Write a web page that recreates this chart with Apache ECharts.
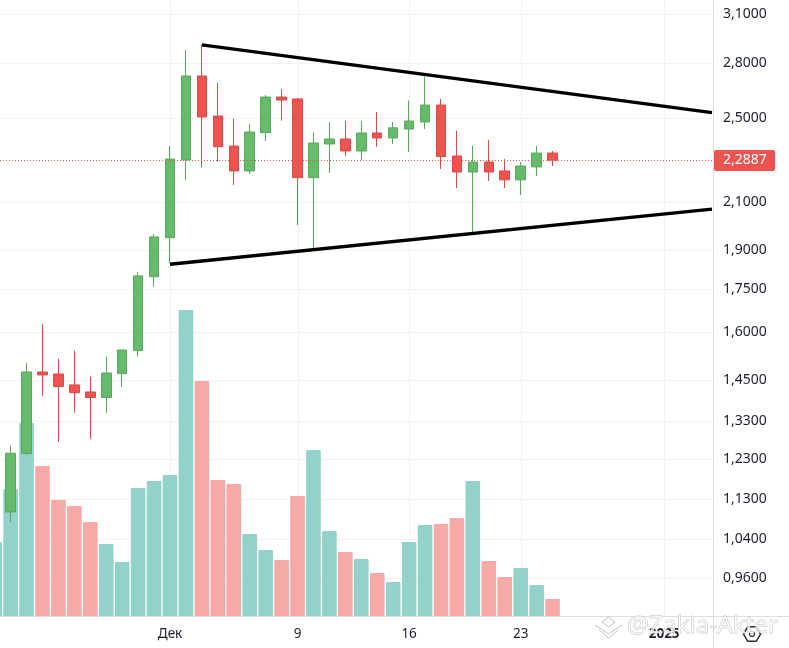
<!DOCTYPE html>
<html>
<head>
<meta charset="UTF-8">
<title>Candles</title>
<style>
html,body{margin:0;padding:0;background:#fff;}
#chart{width:789px;height:648px;}
</style>
</head>
<body>
<div id="chart"></div>
<script src="https://cdn.jsdelivr.net/npm/echarts@6/dist/echarts.min.js"></script>
<script>
// days, Nov 20 -> Jan 9 (the right part stays empty)
var days = ['Nov 20','Nov 21','Nov 22','Nov 23','Nov 24','Nov 25','Nov 26','Nov 27','Nov 28','Nov 29','Nov 30',
	'Dec 1','Dec 2','Dec 3','Dec 4','Dec 5','Dec 6','Dec 7','Dec 8','Dec 9','Dec 10','Dec 11','Dec 12','Dec 13','Dec 14','Dec 15',
	'Dec 16','Dec 17','Dec 18','Dec 19','Dec 20','Dec 21','Dec 22','Dec 23','Dec 24','Dec 25','Dec 26','Dec 27','Dec 28','Dec 29','Dec 30','Dec 31',
	'Jan 1','Jan 2','Jan 3','Jan 4','Jan 5','Jan 6','Jan 7','Jan 8','Jan 9'];
var opens  = [1.060,1.101,1.243,1.473,1.467,1.434,1.413,1.397,1.468,1.540,1.796,1.948,2.290,2.727,2.509,2.357,2.238,2.424,2.610,2.600,2.207,2.367,2.392,2.333,2.422,2.397,2.442,2.478,2.567,2.309,2.233,2.280,2.238,2.197,2.257,2.323];
var closes = [1.103,1.244,1.473,1.464,1.429,1.411,1.397,1.470,1.542,1.799,1.951,2.294,2.727,2.504,2.354,2.238,2.427,2.610,2.594,2.207,2.372,2.392,2.333,2.422,2.397,2.448,2.483,2.567,2.306,2.233,2.280,2.233,2.197,2.261,2.323,2.2887];
var highs  = [1.117,1.264,1.501,1.628,1.514,1.540,1.459,1.521,1.542,1.814,1.963,2.357,2.879,2.909,2.688,2.495,2.468,2.621,2.654,2.605,2.424,2.478,2.485,2.483,2.530,2.478,2.591,2.723,2.600,2.434,2.359,2.387,2.294,2.280,2.357,2.333];
var lows   = [1.049,1.077,1.243,1.401,1.274,1.353,1.282,1.353,1.428,1.521,1.759,1.848,2.197,2.254,2.282,2.174,2.224,2.382,2.485,2.000,1.899,2.229,2.309,2.290,2.353,2.367,2.329,2.442,2.247,2.160,1.959,2.192,2.160,2.129,2.215,2.261];
// volume, no scale in the picture so arbitrary units
var volumes = [74,127,193,150,116,110,94,72,54,128,135,141,306,235,136,132,82,66,56,120,166,85,64,57,43,34,74,91,92,98,135,55,39,48,31,17];
var volumeUp = [1,1,1,0,0,0,0,1,1,1,1,1,1,0,0,0,1,1,0,0,1,1,0,1,0,1,1,1,0,0,1,0,0,1,1,0];

var priceTicks = [3.1,2.8,2.5,2.1,1.9,1.75,1.6,1.45,1.33,1.23,1.13,1.04,0.96];
var lastPrice = 2.2887;
var timeTickDays = ['Dec 1','Dec 9','Dec 16','Dec 23','Jan 1'];
var timeTickLabels = ['Дек','9','16','23','2025'];
// trend lines: [day, price]
var upperTrend = [['Dec 3',2.909],['Jan 4',2.527]];
var lowerTrend = [['Dec 1',1.843],['Jan 4',2.067]];

var FONT = '"Noto Sans", sans-serif';
var TEXT = '#1c2030';
var AXIS_X = 713;
var PRICE_MIN = 0.8866, PRICE_MAX = 3.194;

function fmtPrice(v){
	return v.toFixed(4).replace('.',',');
}

var chart = echarts.init(document.getElementById('chart'));

// hex settings icon points
var hexPts = [];
for(var k=0;k<6;k++){
	var a = Math.PI/3*k;
	hexPts.push([752+8.5*Math.cos(a),634+8.5*Math.sin(a)]);
}

var option = {
	animation:false,
	backgroundColor:'#fff',
	grid:{left:-13.3,right:-10.64,top:0,bottom:32,containLabel:false,outerBoundsMode:'none'},
	xAxis:{
		type:'category',
		data:days,
		boundaryGap:true,
		axisTick:{show:false},
		axisLine:{onZero:false,lineStyle:{color:'#dcdee2',width:1}},
		splitLine:{show:false},
		axisLabel:{
			interval:function(i,v){return timeTickDays.indexOf(v)>=0;},
			margin:11,
			fontFamily:FONT,
			fontSize:13.5,
			color:TEXT,
			formatter:function(v){
				var s = timeTickLabels[timeTickDays.indexOf(v)];
				return s==='2025' ? '{b|'+s+'}' : s;
			},
			rich:{b:{fontFamily:FONT,fontSize:13.5,fontWeight:'bold',color:TEXT}}
		}
	},
	yAxis:[
		{type:'log',min:PRICE_MIN,max:PRICE_MAX,show:false,splitLine:{show:false}},
		{type:'value',min:0,max:616,show:false,splitLine:{show:false}}
	],
	series:[
		{	// horizontal grid and price labels
			type:'custom',
			z:0,silent:true,clip:false,
			data:priceTicks.map(function(v){return [0,v];}),
			encode:{x:0,y:1},
			renderItem:function(p,api){
				var y = Math.round(api.coord([0,api.value(1)])[1])+0.5;
				return {type:'group',children:[
					{type:'line',shape:{x1:0,y1:y,x2:AXIS_X,y2:y},style:{stroke:'#f2f3f5',lineWidth:1}},
					{type:'text',x:723,y:y,style:{text:fmtPrice(api.value(1)),fill:TEXT,font:'14px '+FONT,textVerticalAlign:'middle'}}
				]};
			}
		},
		{	// vertical grid at the labelled days
			type:'custom',
			z:0,silent:true,clip:false,
			data:timeTickDays.map(function(d){return [days.indexOf(d),1];}),
			encode:{x:0,y:1},
			renderItem:function(p,api){
				var x = Math.round(api.coord([api.value(0),1])[0])+0.5;
				return {type:'line',shape:{x1:x,y1:0,x2:x,y2:616},style:{stroke:'#f0f1f3',lineWidth:1}};
			}
		},
		{
			name:'Volume',
			type:'bar',
			yAxisIndex:1,
			z:1,
			barWidth:14.6,
			data:volumes.map(function(v,i){
				return {value:v,itemStyle:{color:volumeUp[i]?'#92d2cb':'#f7a9a7',borderRadius:[1,1,0,0]}};
			})
		},
		{
			name:'Price',
			type:'candlestick',
			z:2,
			barWidth:10,
			data:opens.map(function(o,i){return [o,closes[i],lows[i],highs[i]];}),
			itemStyle:{color:'#66bb6a',color0:'#ef5350',borderColor:'#5aa75e',borderColor0:'#d64c49',borderWidth:1}
		},
		{	// last price dotted line and tag
			type:'custom',
			z:3,silent:true,clip:false,
			data:[[0,lastPrice]],
			encode:{x:0,y:1},
			renderItem:function(p,api){
				var y = Math.round(api.coord([0,api.value(1)])[1])+0.5;
				return {type:'group',children:[
					{type:'line',shape:{x1:0,y1:y,x2:AXIS_X,y2:y},style:{stroke:'#ef5350',lineWidth:1,lineDash:[1,2]}},
					{type:'rect',shape:{x:714,y:y-10.5,width:61,height:21,r:2},style:{fill:'#ef5350'}},
					{type:'text',x:723,y:y,style:{text:fmtPrice(api.value(1)),fill:'#fff',font:'14px '+FONT,textVerticalAlign:'middle'}}
				]};
			}
		},
		{
			type:'line',
			z:4,silent:true,
			symbol:'none',
			lineStyle:{color:'#000',width:3.4},
			data:upperTrend
		},
		{
			type:'line',
			z:4,silent:true,
			symbol:'none',
			lineStyle:{color:'#000',width:3.4},
			data:lowerTrend
		}
	],
	graphic:[
		{type:'line',z:5,silent:true,shape:{x1:AXIS_X+0.5,y1:0,x2:AXIS_X+0.5,y2:648},style:{stroke:'#dcdee2',lineWidth:1}},
		{type:'polygon',z:5,silent:true,shape:{points:hexPts},style:{fill:'none',stroke:'#2a2e39',lineWidth:1.5}},
		{type:'circle',z:5,silent:true,shape:{cx:752,cy:634,r:2.5},style:{fill:'none',stroke:'#2a2e39',lineWidth:1.2}},
		// watermark
		{type:'polyline',z:6,silent:true,shape:{points:[[602,622],[608.5,617],[615,622],[608.5,627],[602,622]]},style:{fill:'none',stroke:'#c4c4c4',lineWidth:1}},
		{type:'polyline',z:6,silent:true,shape:{points:[[595,625],[608.5,634],[622,625]]},style:{fill:'none',stroke:'#c4c4c4',lineWidth:1}},
		{type:'polyline',z:6,silent:true,shape:{points:[[599,630],[608.5,638],[618,630]]},style:{fill:'none',stroke:'#c4c4c4',lineWidth:1}},
		{type:'text',z:6,silent:true,x:627,y:626,style:{text:'@Zakia-Akter',font:'24.5px "Open Sans", sans-serif',fill:'rgba(255,255,255,0.75)',stroke:'#bdbdbd',lineWidth:0.8,textVerticalAlign:'middle'}}
	]
};
chart.setOption(option);
</script>
</body>
</html>
